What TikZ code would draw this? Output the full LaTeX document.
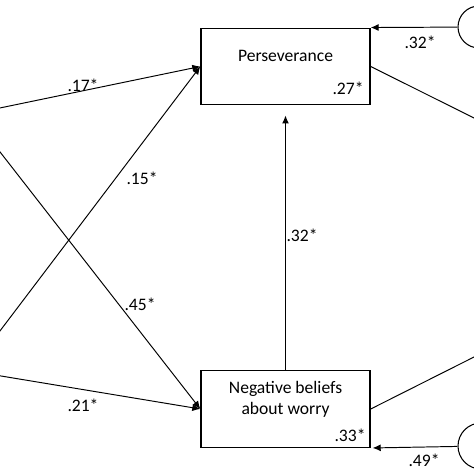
\documentclass[tikz,border=0pt]{standalone}
\usepackage{fontspec}
\setmainfont{Carlito}
\usetikzlibrary{positioning,shapes,arrows.meta}

\begin{document}
\begin{tikzpicture}[font=\fontsize{10}{12}\selectfont,
  var/.style={draw,shape=rectangle,line width=0.8pt,minimum width=3.38cm,minimum height=1.53cm,inner sep=0pt},
  err/.style={draw,shape=circle,line width=0.6pt,inner sep=0pt},
  path/.style={line width=0.55pt,-{Latex[length=1.6mm,width=1.4mm]}},
  wt/.style={inner sep=1pt}]
\useasboundingbox (0,0) rectangle (9.48,9.48);
\clip (0,0) rectangle (9.48,9.48);

\draw node (pers) at (5.71,8.15) [var,text height=7pt,text depth=13.2pt]{Perseverance};
\draw node (neg) at (5.71,1.30) [var,align=center,text height=7pt,text depth=1pt]{Negative beliefs\\about worry};
\draw node (e1) at (9.58,8.94) [err,minimum size=0.84cm]{};
\draw node (e2) at (9.62,0.56) [err,minimum size=0.92cm]{};

%left and right ends run off the picture
\coordinate (a1) at (-0.1,7.30);
\coordinate (a2) at (-0.1,6.57);
\coordinate (b1) at (-0.1,2.73);
\coordinate (b2) at (-0.1,1.98);
\coordinate (r1) at (9.6,7.06);
\coordinate (r2) at (9.6,2.40);

\draw[path] (a1) -- (pers.west);
\draw[path] (b1) -- (pers.west);
\draw[path] (a2) -- (neg.west);
\draw[path] (b2) -- (neg.west);
\draw[path,line width=0.7pt,shorten >=0.2cm] (neg.north) -- (pers.south);
\draw[path] (e1) -- (pers.north east);
\draw[path] (e2) -- ([xshift=0.04cm]neg.south east);
\draw[line width=0.55pt] (pers.east) -- (r1)
  (neg.east) -- (r2);

\draw node (w1) at (1.66,7.78) [wt]{.17*};
\draw node (w2) at (2.84,5.92) [wt]{.15*};
\draw node (w3) at (2.80,3.40) [wt]{.45*};
\draw node (w4) at (1.66,1.38) [wt]{.21*};
\draw node (w5) at (6.04,4.78) [wt]{.32*};
\draw node (w6) at (8.40,8.64) [wt]{.32*};
\draw node (w7) at (8.48,0.28) [wt]{.49*};
\draw node (v1) at (6.96,7.72) [wt]{.27*};
\draw node (v2) at (7.00,0.78) [wt]{.33*};
\end{tikzpicture}
\end{document}
